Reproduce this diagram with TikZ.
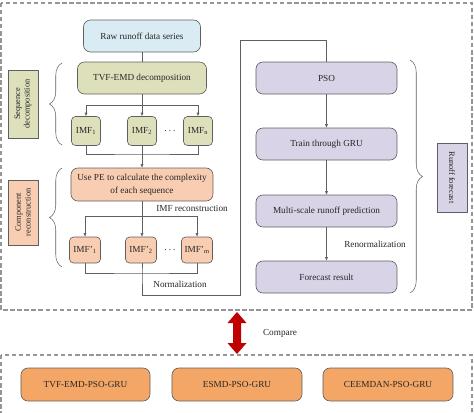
\documentclass[tikz,border=0pt]{standalone}
\usepackage{fontspec}
\setmainfont{Liberation Serif}
\usetikzlibrary{arrows.meta,decorations.pathreplacing}

\definecolor{rawblue}{RGB}{218,236,243}
\definecolor{olive}{RGB}{222,224,188}
\definecolor{peach}{RGB}{248,205,177}
\definecolor{lavender}{RGB}{216,211,230}
\definecolor{modelorange}{RGB}{244,166,102}
\definecolor{edge}{RGB}{95,95,95}
\definecolor{dashgray}{RGB}{150,150,150}
\definecolor{darkred}{RGB}{192,0,0}

\tikzset{
	every node/.style={font=\fontsize{10.5}{12.5}\selectfont},
	box/.style={draw=edge, line width=0.7pt, rounded corners=0.28cm, align=center,
		text=black!85, inner sep=1pt},
	imfbox/.style={box, rounded corners=0.16cm, minimum width=1.16cm, minimum height=1.16cm},
	tagbox/.style={draw=edge, line width=0.7pt, align=center, text=black!85,
		minimum width=2.72cm, minimum height=1.2cm, inner sep=1pt,
		font=\fontsize{9.5}{11}\selectfont},
	link/.style={draw=edge, line width=0.6pt},
	arr/.style={link, -{Latex[length=4pt,width=3.5pt]}},
	bracket/.style={draw=edge, line width=0.6pt, decorate,
		decoration={brace, amplitude=0.5cm}},
	frame/.style={draw=dashgray, line width=1.4pt, dash pattern=on 5pt off 3pt},
}

\begin{document}
\begin{tikzpicture}[x=0.04cm, y=-0.04cm]
	\useasboundingbox (0,0) rectangle (474,412);

	% dashed frames
	\draw[frame] (1,3) rectangle (472,310);
	\draw[frame] (1,355) rectangle (472,440);

	% left column
	\node[box, fill=rawblue, minimum width=4.68cm, minimum height=1.28cm] (raw) at (142,36) {Raw runoff data series};
	\node[box, fill=olive, minimum width=5.16cm, minimum height=1.28cm] (tvf) at (142,78) {TVF-EMD decomposition};

	\node[imfbox, fill=olive] (imf1) at (86,131) {IMF\textsubscript{1}};
	\node[imfbox, fill=olive] (imf2) at (142,131) {IMF\textsubscript{2}};
	\node[imfbox, fill=olive] (imfn) at (198,131) {IMF\textsubscript{n}};
	\node (dots1) at (170,131) {$\cdots$};

	\node[box, fill=peach, minimum width=5.68cm, minimum height=1.32cm,
		font=\fontsize{10.5}{14.5}\selectfont] (pe) at (142,184.5)
		{Use PE to calculate the complexity\\of each sequence};

	\node[imfbox, fill=peach, minimum width=1.24cm, minimum height=1.04cm] (imfp1) at (85,250) {IMF'\textsubscript{1}};
	\node[imfbox, fill=peach, minimum width=1.24cm, minimum height=1.04cm] (imfp2) at (141,250) {IMF'\textsubscript{2}};
	\node[imfbox, fill=peach, minimum width=1.24cm, minimum height=1.04cm] (imfpm) at (197,250) {IMF'\textsubscript{m}};
	\node (dots2) at (170,250) {$\cdots$};

	\node[text=black!85] (recon) at (192,208) {IMF reconstruction};
	\node[text=black!85] (norm) at (180,284) {Normalization};

	% side tags
	\node[tagbox, fill=olive, rotate=90] (seqtag) at (23,104) {Sequence\\decomposition};
	\node[tagbox, fill=peach, rotate=90, minimum width=2.6cm] (comptag) at (23,212.5) {Component\\reconstruction};
	\node[tagbox, fill=lavender, rotate=-90, minimum width=2.76cm] (fctag) at (452,177.5) {Runoff forecast};

	\draw[bracket] (62,145) -- (62,63);
	\draw[bracket] (62,267) -- (62,168);
	\draw[bracket] (410,60) -- (410,293);

	% right column
	\node[box, fill=lavender, minimum width=5.64cm, minimum height=1.28cm] (pso) at (326.5,78) {PSO};
	\node[box, fill=lavender, minimum width=5.64cm, minimum height=1.28cm] (gru) at (326.5,144) {Train through GRU};
	\node[box, fill=lavender, minimum width=5.64cm, minimum height=1.28cm] (pred) at (326.5,211) {Multi-scale runoff prediction};
	\node[box, fill=lavender, minimum width=5.64cm, minimum height=1.28cm] (result) at (326.5,277) {Forecast result};
	\node[text=black!85] (renorm) at (375,244) {Renormalization};

	% connectors
	\coordinate (s1) at (142,105);
	\coordinate (m1) at (142,154);
	\coordinate (s2) at (142,216);
	\coordinate (m2) at (142,273);
	\coordinate (c1) at (240,295);
	\coordinate (c2) at (240,40);

	\draw[link] (raw) -- (tvf);
	\draw[link] (tvf) -- (s1);
	\draw[arr] (s1) -| (imf1);
	\draw[arr] (s1) -- (imf2);
	\draw[arr] (s1) -| (imfn);
	\draw[link] (imf1) |- (m1) -| (imfn);
	\draw[arr] (imf2) -- (pe);
	\draw[link] (pe) -- (s2);
	\draw[arr] (s2) -| (imfp1);
	\draw[arr] (s2) -- (s2 |- imfp2.north);
	\draw[arr] (s2) -| (imfpm);
	\draw[link] (imfp1) |- (m2) -| (imfpm);
	\draw[link] (m2 |- imfp2.south) -- (m2) |- (c1) -- (c2) -| (pso);

	\draw[arr] (pso) -- (gru);
	\draw[arr] (gru) -- (pred);
	\draw[arr] (pred) -- (result);

	% compare arrow
	\fill[darkred] (237,312) -- (246.5,323) -- (241,323) -- (241,343) -- (246.5,343)
		-- (237,354) -- (227.5,343) -- (233,343) -- (233,323) -- (227.5,323) -- cycle;
	\node[text=black!85] (compare) at (280,333) {Compare};

	% models
	\node[box, fill=modelorange, minimum width=5.16cm, minimum height=1.32cm] (m_tvf) at (85.5,384.5) {TVF-EMD-PSO-GRU};
	\node[box, fill=modelorange, minimum width=5.2cm, minimum height=1.32cm] (m_esmd) at (237,384.5) {ESMD-PSO-GRU};
	\node[box, fill=modelorange, minimum width=5.2cm, minimum height=1.32cm] (m_ceem) at (388,384.5) {CEEMDAN-PSO-GRU};
\end{tikzpicture}
\end{document}
